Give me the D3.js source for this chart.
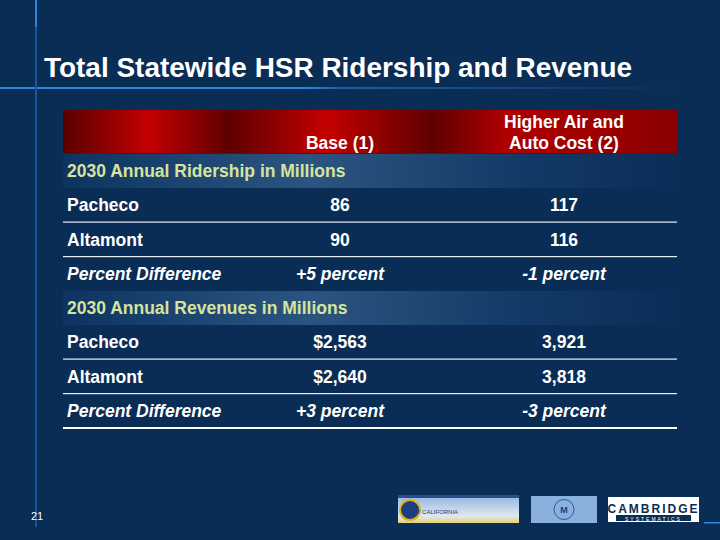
<!DOCTYPE html>
<html><head><meta charset="utf-8">
<script src="https://cdn.jsdelivr.net/npm/d3@7"></script>
<style>body{margin:0;background:#0a2d56}svg{display:block}</style>
</head><body>
<script>
var title = "Total Statewide HSR Ridership and Revenue";
var columns = ["Base (1)", "Higher Air and|Auto Cost (2)"];
var sections = ["2030 Annual Ridership in Millions", "2030 Annual Revenues in Millions"];
var rowLabels = ["Pacheco", "Altamont", "Percent Difference"];
var ridership = [["86", "117"], ["90", "116"], ["+5 percent", "-1 percent"]];
var revenues = [["$2,563", "3,921"], ["$2,640", "3,818"], ["+3 percent", "-3 percent"]];

var W = 720, H = 540;
var svg = d3.select("body").append("svg").attr("width", W).attr("height", H);
var defs = svg.append("defs");
var font = "Liberation Sans, Arial, sans-serif";

svg.append("rect").attr("width", W).attr("height", H).attr("fill", "#0a2d56");

// decorative lines
var hl = defs.append("linearGradient").attr("id", "hl");
hl.append("stop").attr("offset", "0").attr("stop-color", "#2a86e0");
hl.append("stop").attr("offset", "0.45").attr("stop-color", "#2a86e0");
hl.append("stop").attr("offset", "0.5").attr("stop-color", "#1d5ea8");
hl.append("stop").attr("offset", "1").attr("stop-color", "#0a2d56");
svg.append("rect").attr("x", 0).attr("y", 87).attr("width", 680).attr("height", 2).attr("fill", "url(#hl)");
svg.append("rect").attr("x", 35).attr("y", 0).attr("width", 2).attr("height", 27).attr("fill", "#2a86e0");
svg.append("rect").attr("x", 35).attr("y", 27).attr("width", 2).attr("height", 500).attr("fill", "#1a5396");
svg.append("rect").attr("x", 704).attr("y", 522).attr("width", 16).attr("height", 1.5).attr("fill", "#2a86e0");

svg.append("text").attr("x", 44).attr("y", 77).attr("fill", "#fff")
  .attr("textLength", 588).attr("lengthAdjust", "spacingAndGlyphs")
  .style("font-family", font).style("font-weight", "bold").style("font-size", "27px")
  .text(title);

var x0 = 63, x1 = 677;
var colX = d3.scalePoint().domain([0, 1]).range([340, 564]);
var fs = "17.5px";

// header band
var rg = defs.append("linearGradient").attr("id", "rg");
[[0, "#5a0000"], [0.14, "#c40000"], [0.27, "#5e0000"], [0.43, "#c40000"], [0.6, "#5e0000"], [0.72, "#b00000"], [1, "#8a0000"]]
  .forEach(function (s) { rg.append("stop").attr("offset", s[0]).attr("stop-color", s[1]); });
svg.append("rect").attr("x", x0).attr("y", 110).attr("width", x1 - x0).attr("height", 43).attr("fill", "url(#rg)");

columns.forEach(function (c, i) {
  var lines = c.split("|");
  var t = svg.append("text").attr("text-anchor", "middle").attr("fill", "#fff")
    .style("font-family", font).style("font-weight", "bold").style("font-size", fs);
  lines.forEach(function (l, j) {
    t.append("tspan").attr("x", colX(i)).attr("y", 149 - (lines.length - 1 - j) * 21).text(l);
  });
});

var sg = defs.append("linearGradient").attr("id", "sg");
[[0, "#0d3461"], [0.4, "#2b5580"], [0.75, "#123a66"], [1, "#0a2d56"]]
  .forEach(function (s) { sg.append("stop").attr("offset", s[0]).attr("stop-color", s[1]); });

var rowH = 34.5;
function block(top, name, data) {
  svg.append("rect").attr("x", x0).attr("y", top).attr("width", x1 - x0).attr("height", 34).attr("fill", "url(#sg)");
  svg.append("text").attr("x", 67).attr("y", top + 23).attr("fill", "#d6e49c")
    .style("font-family", font).style("font-weight", "bold").style("font-size", fs).text(name);
  var y = d3.scaleLinear().domain([0, 1]).range([top + 34, top + 34 + rowH]);
  data.forEach(function (row, r) {
    var it = r === 2 ? "italic" : "normal";
    svg.append("text").attr("x", 67).attr("y", y(r) + 23).attr("fill", "#fff")
      .style("font-family", font).style("font-weight", "bold").style("font-style", it).style("font-size", fs)
      .text(rowLabels[r]);
    row.forEach(function (v, c) {
      svg.append("text").attr("x", colX(c)).attr("y", y(r) + 23).attr("text-anchor", "middle").attr("fill", "#fff")
        .style("font-family", font).style("font-weight", "bold").style("font-style", it).style("font-size", fs)
        .text(v);
    });
    if (r < 2) svg.append("rect").attr("x", x0).attr("y", y(r + 1) - 1).attr("width", x1 - x0).attr("height", 1.2).attr("fill", "#e8eef5");
  });
}
block(154, sections[0], ridership);
block(291, sections[1], revenues);
svg.append("rect").attr("x", x0).attr("y", 427).attr("width", x1 - x0).attr("height", 2).attr("fill", "#fff");

svg.append("text").attr("x", 31).attr("y", 520).attr("fill", "#fff")
  .style("font-family", font).style("font-size", "11px").text("21");

// logos
var lg = defs.append("linearGradient").attr("id", "lg").attr("x1", 0).attr("y1", 0).attr("x2", 0).attr("y2", 1);
lg.append("stop").attr("offset", "0").attr("stop-color", "#8fb4e0");
lg.append("stop").attr("offset", "0.75").attr("stop-color", "#dfe8f0");
lg.append("stop").attr("offset", "1").attr("stop-color", "#e8d070");
svg.append("rect").attr("x", 398).attr("y", 495).attr("width", 121).attr("height", 28).attr("fill", "url(#lg)");
svg.append("rect").attr("x", 398).attr("y", 495).attr("width", 121).attr("height", 3).attr("fill", "#2a4e8a");
svg.append("circle").attr("cx", 410).attr("cy", 510).attr("r", 10).attr("fill", "#1d3f80").attr("stroke", "#e0b020").attr("stroke-width", 2);
svg.append("text").attr("x", 410).attr("y", 514).attr("fill", "#203e7a").style("font-family", font).style("font-size", "6px").text("FLY CALIFORNIA");
svg.append("rect").attr("x", 531).attr("y", 496).attr("width", 66).attr("height", 27).attr("fill", "#8ab0dc");
svg.append("circle").attr("cx", 564).attr("cy", 509.5).attr("r", 10).attr("fill", "none").attr("stroke", "#2c5aa0").attr("stroke-width", 1);
svg.append("text").attr("x", 564).attr("y", 513).attr("text-anchor", "middle").attr("fill", "#1d3f80").style("font-family", font).style("font-weight", "bold").style("font-size", "9px").text("M");
svg.append("rect").attr("x", 608).attr("y", 497).attr("width", 91).attr("height", 25).attr("fill", "#fff");
svg.append("text").attr("x", 653.5).attr("y", 513).attr("text-anchor", "middle").attr("fill", "#0a2d56")
  .style("font-family", font).style("font-weight", "bold").style("font-size", "12px").style("letter-spacing", "2px").text("CAMBRIDGE");
svg.append("rect").attr("x", 616).attr("y", 515).attr("width", 75).attr("height", 6).attr("fill", "#0a2d56");
svg.append("text").attr("x", 653.5).attr("y", 520.5).attr("text-anchor", "middle").attr("fill", "#fff")
  .style("font-family", font).style("font-size", "5px").style("letter-spacing", "2px").text("SYSTEMATICS");
</script>
</body></html>
